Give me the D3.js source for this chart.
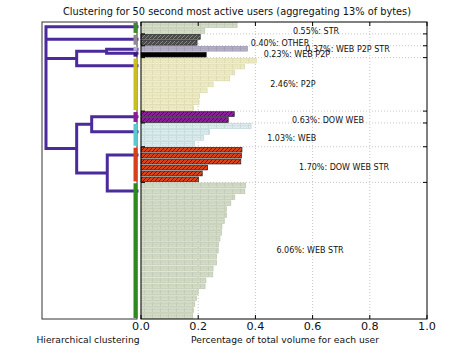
<!DOCTYPE html>
<html><head><meta charset="utf-8">
<script src="https://cdn.jsdelivr.net/npm/d3@7"></script>
<style>body{margin:0;background:#fff}svg{display:block;font-family:"DejaVu Sans",sans-serif}</style>
</head><body>
<svg id="c" width="474" height="355"></svg>
<script>
// ---- data ----
const clusterNames = ["STR","OTHER","WEB P2P STR","WEB P2P","P2P","DOW WEB","WEB","DOW WEB STR","WEB STR"];
const clusterShare = ["0.55%","0.40%","0.37%","0.23%","2.46%","0.63%","1.03%","1.70%","6.06%"];
const clusterSizes = [2,2,1,1,9,2,4,6,23];
const userValues = [
  0.336,0.223,
  0.207,0.196,
  0.372,
  0.228,
  0.403,0.362,0.328,0.310,0.252,0.231,0.205,0.203,0.184,
  0.326,0.305,
  0.385,0.239,0.219,0.187,
  0.353,0.351,0.349,0.233,0.214,0.201,
  0.366,0.363,0.328,0.314,0.299,0.299,0.291,0.283,0.281,0.276,0.271,0.270,0.264,0.264,0.252,0.251,0.227,0.224,0.200,0.194,0.188,0.183,0.181
];
const labelX = [0.612,0.486,0.722,0.545,0.531,0.654,0.527,0.710,0.591];
const leafPos = [0.79,2.91,4.6,5.27,7.36,15.94,18.47,22.4,28.45];
// linkage: [childA, childB, distance]; ids >= 9 refer to earlier merges
const merges = [[2,3,0.32],[9,4,0.635],[5,6,0.477],[7,8,0.313],[11,12,0.635],[0,1,0.958],[14,10,0.958],[15,13,0.958]];
const boundaries = [2,4,6,15,17,21,27];
const xTicks = [0,0.2,0.4,0.6,0.8,1.0];
const barFill = ["#d4ddc8","#4c4c4c","#b7b2c8","#000000","#efedcb","#8b1e9c","#dcedef","#d9431c","#d4ddc8"];
const barHatch = ["#bcc6ae","#8a8a8a","#9a94b0","#000000","#d9d5a6","#4a0a58","#bcd3d6","#6a1406","#bcc6ae"];
const hatchType = ["grid","diag","grid","none","grid","diag","grid","diag","grid"];
const markColor = ["#3a8c2a","#8c8c8c","#b4acd4","#3a1a70","#c8c01e","#8b1a9b","#5cc8d0","#d8401a","#2e8a1e"];

// ---- layout ----
const svg = d3.select("#c");
const R = {x0:141, x1:427, y0:22, y1:319};
const L = {x0:42, x1:137};
const n = userValues.length;
const x = d3.scaleLinear().domain([0,1]).range([R.x0,R.x1]);
const y = d3.scaleBand().domain(d3.range(n)).range([R.y0,R.y1]).paddingInner(0.2).paddingOuter(0.1);
const yIdx = d3.scaleLinear().domain([0,n]).range([R.y0,R.y1]);
const xd = d3.scaleLinear().domain([0,1]).range([L.x1,L.x0]);

// cluster index per user
const starts = []; let acc=0;
clusterSizes.forEach(s=>{starts.push(acc); acc+=s;});
const userCluster = [];
clusterSizes.forEach((s,c)=>{for(let i=0;i<s;i++) userCluster.push(c);});

// patterns
const defs = svg.append("defs");
barFill.forEach((f,c)=>{
  const p = defs.append("pattern").attr("id","h"+c).attr("patternUnits","userSpaceOnUse");
  if(hatchType[c]==="diag"){
    p.attr("width",4).attr("height",4);
    p.append("rect").attr("width",4).attr("height",4).attr("fill",f);
    p.append("path").attr("d","M0,4L4,0M-1,1L1,-1M3,5L5,3").attr("stroke",barHatch[c]).attr("stroke-width",0.9);
  } else if(hatchType[c]==="grid"){
    p.attr("width",8).attr("height",y.step()).attr("y",R.y0);
    p.append("rect").attr("width",8).attr("height",y.step()).attr("fill",f);
    p.append("path").attr("d",`M0,${y.step()*0.45}H8M0.5,0V${y.step()}`).attr("stroke",barHatch[c]).attr("stroke-width",0.6);
  } else {
    p.attr("width",4).attr("height",4);
    p.append("rect").attr("width",4).attr("height",4).attr("fill",f);
  }
});

// title
svg.append("text").attr("x",237).attr("y",15).attr("text-anchor","middle").attr("font-size",9.8).attr("fill","#111")
  .text("Clustering for 50 second most active users (aggregating 13% of bytes)");

// ---- right panel ----
const g = svg.append("g");
// grid
g.selectAll(".vg").data(xTicks.slice(1,-1)).join("line")
  .attr("x1",d=>x(d)).attr("x2",d=>x(d)).attr("y1",R.y0).attr("y2",R.y1)
  .attr("stroke","#b8b8b8").attr("stroke-width",0.8).attr("stroke-dasharray","1,2");
g.selectAll(".hg").data(boundaries).join("line")
  .attr("x1",R.x0).attr("x2",R.x1).attr("y1",d=>yIdx(d)).attr("y2",d=>yIdx(d))
  .attr("stroke","#b8b8b8").attr("stroke-width",0.8).attr("stroke-dasharray","1,2");
// bars
g.selectAll(".bar").data(userValues).join("rect")
  .attr("x",x(0)).attr("y",(d,i)=>y(i)).attr("height",y.bandwidth())
  .attr("width",d=>x(d)-x(0))
  .attr("fill",(d,i)=>`url(#h${userCluster[i]})`)
  .attr("stroke",(d,i)=>hatchType[userCluster[i]]==="grid"?barHatch[userCluster[i]]:"#222")
  .attr("stroke-width",0.7);
// cluster labels
g.selectAll(".lab").data(clusterNames).join("text")
  .attr("x",(d,c)=>x(labelX[c]))
  .attr("y",(d,c)=>y(starts[c]+Math.floor(clusterSizes[c]/2))+y.bandwidth()/2)
  .attr("dy","0.35em").attr("text-anchor","middle").attr("font-size",8).attr("fill","#111")
  .text((d,c)=>`${clusterShare[c]}: ${d}`);
// ticks
xTicks.forEach(t=>{
  g.append("line").attr("x1",x(t)).attr("x2",x(t)).attr("y1",R.y1).attr("y2",R.y1-4).attr("stroke","#000");
  g.append("line").attr("x1",x(t)).attr("x2",x(t)).attr("y1",R.y0).attr("y2",R.y0+4).attr("stroke","#000");
});
boundaries.forEach(b=>{
  g.append("line").attr("x1",R.x0).attr("x2",R.x0+4).attr("y1",yIdx(b)).attr("y2",yIdx(b)).attr("stroke","#000");
  g.append("line").attr("x1",R.x1).attr("x2",R.x1-4).attr("y1",yIdx(b)).attr("y2",yIdx(b)).attr("stroke","#000");
});
g.append("rect").attr("x",R.x0).attr("y",R.y0).attr("width",R.x1-R.x0).attr("height",R.y1-R.y0)
  .attr("fill","none").attr("stroke","#000").attr("stroke-width",1);
g.selectAll(".tl").data(xTicks).join("text")
  .attr("x",d=>x(d)).attr("y",330).attr("text-anchor","middle").attr("font-size",11.2).attr("fill","#111")
  .text(d=>d.toFixed(1));
svg.append("text").attr("x",285).attr("y",343).attr("text-anchor","middle").attr("font-size",9.2).attr("fill","#111")
  .text("Percentage of total volume for each user");

// ---- left panel: dendrogram ----
const dg = svg.append("g");
dg.append("rect").attr("x",L.x0).attr("y",R.y0).attr("width",L.x1-L.x0).attr("height",R.y1-R.y0)
  .attr("fill","none").attr("stroke","#333").attr("stroke-width",1);
const nodeY = leafPos.map(p=>yIdx(p));
const nodeD = leafPos.map(()=>0);
const segs = [];
merges.forEach(([a,b,dist])=>{
  segs.push([xd(nodeD[a]),nodeY[a],xd(dist),nodeY[a]]);
  segs.push([xd(dist),nodeY[a],xd(dist),nodeY[b]]);
  segs.push([xd(dist),nodeY[b],xd(nodeD[b]),nodeY[b]]);
  nodeY.push((nodeY[a]+nodeY[b])/2); nodeD.push(dist);
});
dg.append("path")
  .attr("d",segs.map(s=>`M${s[0]},${s[1]}L${s[2]},${s[3]}`).join(""))
  .attr("fill","none").attr("stroke","#4b2a9c").attr("stroke-width",3).attr("stroke-linecap","square");
// colored cluster marks
dg.selectAll(".mk").data(clusterNames).join("line")
  .attr("x1",135.5).attr("x2",135.5)
  .attr("y1",(d,c)=>y(starts[c])+y.bandwidth()/2)
  .attr("y2",(d,c)=>y(starts[c]+clusterSizes[c]-1)+y.bandwidth()/2)
  .attr("stroke",(d,c)=>markColor[c]).attr("stroke-width",4).attr("stroke-linecap","square");
svg.append("text").attr("x",88).attr("y",343).attr("text-anchor","middle").attr("font-size",9.2).attr("fill","#111")
  .text("Hierarchical clustering");
</script>
</body></html>
